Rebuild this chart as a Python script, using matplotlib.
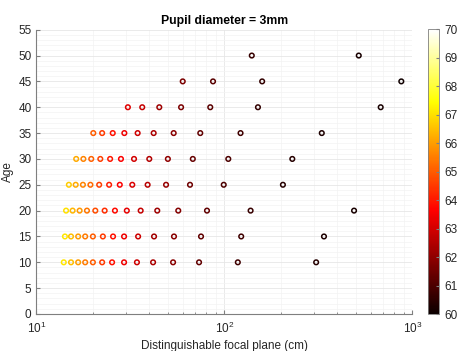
import matplotlib
matplotlib.use("Agg")
import matplotlib.pyplot as plt
from matplotlib.ticker import MultipleLocator, LogLocator, NullFormatter
from matplotlib.colors import Normalize
from matplotlib.cm import ScalarMappable

plt.rcParams['font.family'] = ['Liberation Sans', 'DejaVu Sans']

ages = [10, 15, 20, 25, 30, 35, 40, 45, 50]

focal_planes = [
    [14.0, 15.3, 16.7, 18.2, 20.0, 22.4, 25.3, 29.3, 34.3, 41.8, 53.4, 73.4, 118, 308],
    [14.2, 15.3, 16.7, 18.2, 20.0, 22.6, 25.6, 29.3, 34.8, 42.3, 54.0, 75.2, 123, 339],
    [14.4, 15.6, 17.0, 18.6, 20.6, 23.1, 26.2, 30.3, 35.9, 44.0, 56.9, 80.9, 138, 490],
    [14.9, 16.2, 17.7, 19.4, 21.6, 24.4, 27.8, 32.4, 39.1, 49.0, 65.7, 99.3, 205],
    [16.3, 17.8, 19.6, 21.9, 24.7, 28.2, 33.1, 39.9, 50.1, 68.0, 105, 230],
    [20.1, 22.4, 25.5, 29.4, 34.6, 42.1, 53.8, 74.5, 122, 330],
    [30.7, 36.6, 45.1, 58.9, 84.2, 151, 679],
    [60.1, 87.1, 159, 874],
    [140, 519],
]

color_values = [
    [67.1, 66.5, 66.0, 65.5, 65.0, 64.5, 63.9, 63.4, 62.9, 62.4, 61.9, 61.3, 60.8, 60.4],
    [67.1, 66.5, 66.0, 65.5, 65.0, 64.5, 63.9, 63.4, 62.9, 62.3, 61.9, 61.3, 60.8, 60.3],
    [67.0, 66.4, 65.9, 65.4, 64.8, 64.3, 63.8, 63.3, 62.8, 62.2, 61.8, 61.3, 60.7, 60.2],
    [66.7, 66.2, 65.6, 65.2, 64.6, 64.1, 63.6, 63.1, 62.6, 62.1, 61.5, 61.0, 60.4],
    [66.2, 65.6, 65.1, 64.6, 64.0, 63.6, 63.0, 62.5, 62.0, 61.4, 61.0, 60.4],
    [65.0, 64.5, 63.9, 63.4, 62.9, 62.4, 61.9, 61.3, 60.8, 60.3],
    [63.2, 62.8, 62.2, 61.7, 61.2, 60.6, 60.2],
    [61.7, 61.2, 60.6, 60.1],
    [60.7, 60.2],
]

title = "Pupil diameter = 3mm"
xlabel = "Distinguishable focal plane (cm)"
ylabel = "Age"

W, H = 474, 351
fig = plt.figure(figsize=(W / 100, H / 100), dpi=100)
ax = fig.add_axes([36.3 / W, 1 - 314 / H, (412.3 - 36.3) / W, (314 - 29.7) / H])
cax = fig.add_axes([427.6 / W, 1 - 314.2 / H, 11.7 / W, (314.2 - 29.3) / H])

cmap = plt.get_cmap('hot')
norm = Normalize(vmin=60, vmax=70)

xs, ys, cs = [], [], []
for age, xr, cr in zip(ages, focal_planes, color_values):
    xs += xr
    ys += [age] * len(xr)
    cs += cr

ax.scatter(xs, ys, s=11, facecolors='none', edgecolors=cmap(norm(cs)),
           linewidths=1.1, zorder=3)

ax.set_xscale('log')
ax.set_xlim(10, 1000)
ax.set_ylim(0, 55)
ax.yaxis.set_major_locator(MultipleLocator(5))
ax.yaxis.set_minor_locator(MultipleLocator(1))
ax.xaxis.set_minor_locator(LogLocator(base=10, subs=range(2, 10)))
ax.xaxis.set_minor_formatter(NullFormatter())

ax.grid(True, which='major', color='#e6e6e6', linewidth=0.6, zorder=0)
ax.grid(True, which='minor', color='#f3f3f3', linewidth=0.5, zorder=0)
ax.set_axisbelow(True)

for side in ['top', 'right']:
    ax.spines[side].set_visible(False)
for side in ['left', 'bottom']:
    ax.spines[side].set_color('#7f7f7f')
    ax.spines[side].set_linewidth(0.8)

ax.tick_params(which='both', direction='in', colors='#7f7f7f', labelcolor='#262626',
               labelsize=8.5, top=False, right=False)
ax.tick_params(which='major', length=3)
ax.tick_params(which='minor', length=1.8)
ax.tick_params(axis='y', which='minor', length=0)
ax.tick_params(axis='x', which='major', pad=5)

ax.set_title(title, fontsize=8.8, fontweight='bold', pad=4, color='#000000')
ax.set_xlabel(xlabel, fontsize=8.5, color='#262626', labelpad=3)
ax.set_ylabel(ylabel, fontsize=8.5, color='#262626', labelpad=3)

sm = ScalarMappable(norm=norm, cmap=cmap)
cb = fig.colorbar(sm, cax=cax, ticks=list(range(60, 71)))
cb.outline.set_edgecolor('#7f7f7f')
cb.outline.set_linewidth(0.6)
cax.tick_params(direction='in', length=2.5, colors='#7f7f7f', labelcolor='#262626', labelsize=8.5)

fig.savefig("out.png", dpi=100)
